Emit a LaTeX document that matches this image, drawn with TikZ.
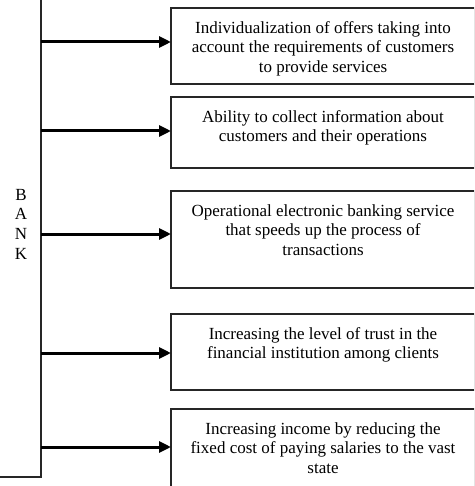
\documentclass[tikz,border=0pt]{standalone}
\usepackage{fontspec}
\setmainfont{Liberation Serif}
\usetikzlibrary{arrows.meta}
\begin{document}
\begin{tikzpicture}[x=1pt,y=1pt,
  boxnode/.style={rectangle, draw=black!85, line width=1.3pt, minimum width=304pt, inner sep=0pt, outer sep=0pt},
  txt/.style={anchor=north, inner sep=0pt, align=center, font=\fontsize{17}{19.5}\selectfont},
  arr/.style={line width=3pt, -{Triangle[length=12pt,width=11pt]}}]
\useasboundingbox (0,0) rectangle (474,-486);
\clip (0,0) rectangle (474,-486);
% bank box
\node[rectangle, draw=black!85, line width=1.3pt, inner sep=0pt, outer sep=0pt,
      minimum width=46pt, minimum height=506pt] (bank) at (18,-224) {};
\node[inner sep=0pt, align=center, font=\fontsize{17}{19.7}\selectfont] (banktxt) at ([xshift=3pt]bank.center) {B\\A\\N\\K};
% boxes
\node[boxnode, minimum height=76pt] (b1) at (323,-46) {};
\node[boxnode, minimum height=71pt] (b2) at (323,-132.5) {};
\node[boxnode, minimum height=97pt] (b3) at (323,-239.5) {};
\node[boxnode, minimum height=76pt] (b4) at (323,-352) {};
\node[boxnode, minimum height=95pt] (b5) at (323,-456.5) {};
% texts
\node[txt] (t1) at ([yshift=-13.3pt]b1.north) {Individualization of offers taking into\\account the requirements of customers\\to provide services};
\node[txt] (t2) at ([yshift=-13.3pt]b2.north) {Ability to collect information about\\customers and their operations};
\node[txt] (t3) at ([yshift=-13.3pt]b3.north) {Operational electronic banking service\\that speeds up the process of\\transactions};
\node[txt] (t4) at ([yshift=-13.3pt]b4.north) {Increasing the level of trust in the\\financial institution among clients};
\node[txt] (t5) at ([yshift=-13.3pt]b5.north) {Increasing income by reducing the\\fixed cost of paying salaries to the vast\\state};
% arrow end points on the boxes
\coordinate (p1) at ([yshift=4pt]b1.west);
\coordinate (p2) at ([yshift=1.5pt]b2.west);
\coordinate (p3) at ([yshift=5.5pt]b3.west);
\coordinate (p4) at ([yshift=-1pt]b4.west);
\coordinate (p5) at ([yshift=9.5pt]b5.west);
% arrows
\draw[arr] (bank.east |- p1) -- (p1);
\draw[arr] (bank.east |- p2) -- (p2);
\draw[arr] (bank.east |- p3) -- (p3);
\draw[arr] (bank.east |- p4) -- (p4);
\draw[arr] (bank.east |- p5) -- (p5);
\end{tikzpicture}
\end{document}
